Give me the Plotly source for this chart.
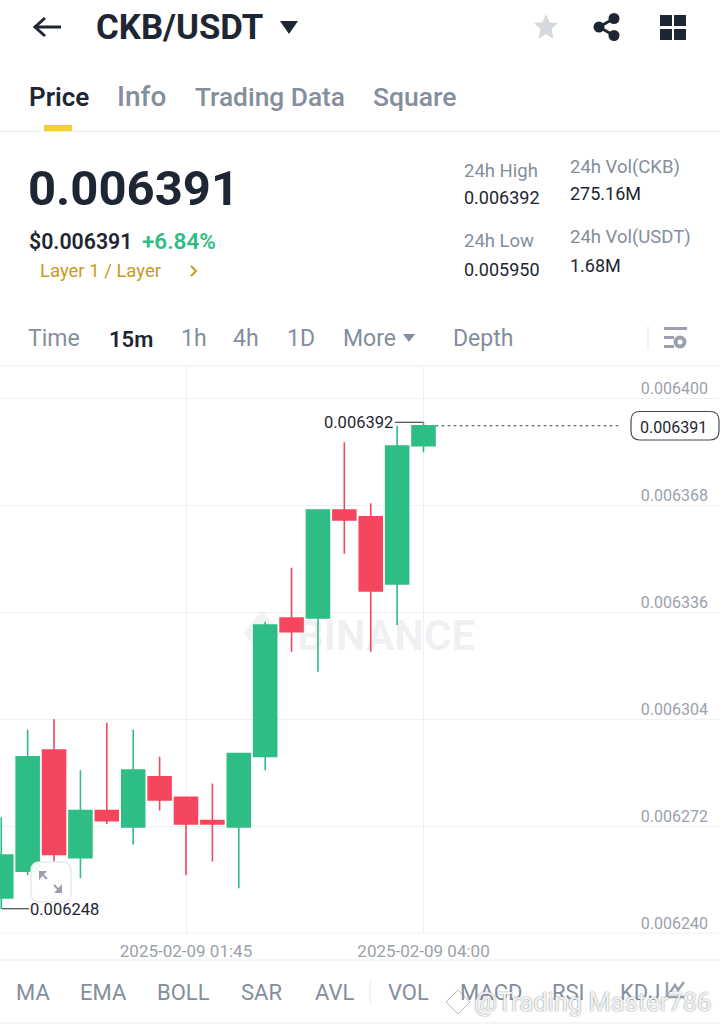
import plotly.graph_objects as go

W, H = 720, 1025
times = ["2025-02-09 00:00","2025-02-09 00:15","2025-02-09 00:30","2025-02-09 00:45","2025-02-09 01:00","2025-02-09 01:15",
         "2025-02-09 01:30","2025-02-09 01:45","2025-02-09 02:00","2025-02-09 02:15","2025-02-09 02:30","2025-02-09 02:45",
         "2025-02-09 03:00","2025-02-09 03:15","2025-02-09 03:30","2025-02-09 03:45","2025-02-09 04:00"]
opens  = [0.0062505,0.0062585,0.0062947,0.0062625,0.0062766,0.0062717,0.0062867,0.0062806,0.0062736,0.0062717,0.0062928,0.0063342,0.0063342,0.0063665,0.0063645,0.0063444,0.0063857]
highs  = [0.0062746,0.0063008,0.0063039,0.0062887,0.0063029,0.0063008,0.0062927,0.0062806,0.0062847,0.0062937,0.0063331,0.0063492,0.0063665,0.0063868,0.0063685,0.0063917,0.0063927]
lows   = [0.0062472,0.0062573,0.0062614,0.0062564,0.0062726,0.0062665,0.0062766,0.0062573,0.0062614,0.0062534,0.0062887,0.0063241,0.0063181,0.0063534,0.0063241,0.0063321,0.0063838]
closes = [0.0062633,0.0062927,0.0062635,0.0062766,0.0062736,0.0062887,0.0062798,0.0062726,0.0062726,0.0062937,0.0063321,0.0063301,0.0063665,0.0063635,0.0063423,0.0063856,0.0063917]
price_ticks = [0.00624,0.006272,0.006304,0.006336,0.006368,0.0064]
price_labels = ["0.006240","0.006272","0.006304","0.006336","0.006368","0.006400"]
time_ticks = ["2025-02-09 01:45","2025-02-09 04:00"]
time_labels = ["2025-02-09 01:45","2025-02-09 04:00"]
last_label = "0.006391"
max_label = "0.006392"
min_label = "0.006248"

DARK, GRAY, AXIS, GRID = "#1e2633", "#848e9c", "#9aa1ac", "#eef0f2"
GREEN, RED = "#2ebd85", "#f6465d"

def px(x): return x / W
def py(y): return 1 - y / H

anns, shapes = [], []

def T(x, y, text, size, color=DARK, anchor="left", weight=None, **font):
    f = dict(family="Roboto", size=size, color=color, **font)
    if weight: f["weight"] = weight
    anns.append(dict(x=px(x), y=py(y), xref="paper", yref="paper", text=text, showarrow=False,
                     xanchor=anchor, yanchor="middle", font=f, borderpad=0, borderwidth=0))

def R(x0, y0, x1, y1, fill, layer="above"):
    shapes.append(dict(type="rect", xref="paper", yref="paper", x0=px(x0), x1=px(x1), y0=py(y0), y1=py(y1),
                       fillcolor=fill, line=dict(width=0), layer=layer))

def L(x0, y0, x1, y1, color, width=1.5, dash="solid", layer="above"):
    shapes.append(dict(type="line", xref="paper", yref="paper", x0=px(x0), x1=px(x1), y0=py(y0), y1=py(y1),
                       line=dict(color=color, width=width, dash=dash), layer=layer))

def P(pts, fill, close=True, line=None, width=0, layer="above"):
    d = "M" + " L".join(f"{px(a):.5f},{py(b):.5f}" for a, b in pts) + (" Z" if close else "")
    shapes.append(dict(type="path", xref="paper", yref="paper", path=d, fillcolor=fill,
                       line=dict(color=line or "rgba(0,0,0,0)", width=width), layer=layer))

def RR(x0, y0, x1, y1, r, fill, line, width):
    def c(a, b): return f"{px(a):.5f},{py(b):.5f}"
    d = (f"M{c(x0+r,y0)} L{c(x1-r,y0)} Q{c(x1,y0)} {c(x1,y0+r)} L{c(x1,y1-r)} Q{c(x1,y1)} {c(x1-r,y1)} "
         f"L{c(x0+r,y1)} Q{c(x0,y1)} {c(x0,y1-r)} L{c(x0,y0+r)} Q{c(x0,y0)} {c(x0+r,y0)} Z")
    shapes.append(dict(type="path", xref="paper", yref="paper", path=d, fillcolor=fill,
                       line=dict(color=line, width=width), layer="above"))

def C(cx, cy, r, fill):
    shapes.append(dict(type="circle", xref="paper", yref="paper", x0=px(cx-r), x1=px(cx+r), y0=py(cy-r), y1=py(cy+r),
                       fillcolor=fill, line=dict(width=0)))

# header
L(35, 27, 61, 27, DARK, 3)
P([(45, 18), (35, 27), (45, 36)], "rgba(0,0,0,0)", close=False, line=DARK, width=3)
T(96, 27, "CKB/USDT", 34.8, weight=700)
P([(280, 21), (298, 21), (289, 34)], DARK)
star = [(546,14),(549.5,22.5),(558,23),(551.5,29),(553.5,39),(546,34),(538.5,39),(540.5,29),(534,23),(542.5,22.5)]
P(star, "#d5d9de")
C(599, 27, 5.5, DARK); C(614, 18.5, 5.5, DARK); C(614, 35.5, 5.5, DARK)
L(599, 27, 614, 18.5, DARK, 2.8); L(599, 27, 614, 35.5, DARK, 2.8)
for gx, gy in [(660, 15), (674, 15), (660, 29), (674, 29)]:
    R(gx, gy, gx + 12, gy + 11, DARK)

# tabs
T(29, 97, "Price", 26, weight=600)
T(117, 97, "Info", 28, GRAY, weight=500)
T(195, 97, "Trading Data", 26.3, GRAY, weight=500)
T(373, 97, "Square", 26.5, GRAY, weight=500)
R(44, 125, 72, 131, "#f5cf33")
L(0, 131.5, 720, 131.5, "#eceef0", 1.2)

# price block
T(28, 189, "0.006391", 49, weight=700)
T(29, 241, "$0.006391", 21.3, weight=600)
T(142, 241, "+6.84%", 22.5, GREEN, weight=600)
T(40, 271, "Layer 1 / Layer", 18.5, "#c99a1c")
P([(191, 266), (196, 271), (191, 276)], "rgba(0,0,0,0)", close=False, line="#c99a1c", width=2)
T(464, 171, "24h High", 18.5, GRAY)
T(464, 198, "0.006392", 18)
T(464, 241, "24h Low", 18.5, GRAY)
T(464, 269, "0.005950", 18)
T(570, 167, "24h Vol(CKB)", 18.5, GRAY)
T(570, 194, "275.16M", 18)
T(570, 237, "24h Vol(USDT)", 18.5, GRAY)
T(570, 265, "1.68M", 18)

# interval row
T(28, 338, "Time", 23, GRAY)
T(109, 339, "15m", 22, weight=600)
T(181, 338, "1h", 23, GRAY)
T(233, 338, "4h", 23, GRAY)
T(287, 338, "1D", 23, GRAY)
T(343, 338, "More", 23, GRAY)
P([(403, 334), (415, 334), (409, 342)], GRAY)
T(453, 338, "Depth", 23, GRAY)
L(648, 326, 648, 350, "#e4e7ea", 1.2)
R(664, 327, 687, 330, AXIS); R(664, 336, 674, 339, AXIS); R(664, 345, 674, 348, AXIS)
C(680, 342, 6.5, AXIS); C(680, 342, 2.5, "#ffffff")
L(0, 366, 720, 366, "#eceef0", 1.2)
L(0, 933, 720, 933, GRID, 1.2, layer="below")

# watermark behind candles
P([(262, 611), (281, 633), (262, 655), (243, 633)], "#f1f2f4", layer="below")
T(297, 635, "BINANCE", 42, "rgba(132,142,156,0.13)", weight=700)

# last price line and extreme labels (on the chart's own axes)
shapes.append(dict(type="line", xref="x", yref="y", x0=times[-1], x1="2025-02-09 05:51", y0=closes[-1], y1=closes[-1],
                   line=dict(color="#444b55", width=1.2, dash="3px,3px"), layer="below"))
RR(631, 411.5, 719, 440, 9, "#ffffff", "#444b55", 1.2)
T(640, 428, last_label, 16, DARK)
T(393, 423, max_label, 16.5, DARK, anchor="right")
L(395, 422.3, 423.5, 422.3, "#444b55", 1.2)
T(30, 909, min_label, 16.5, DARK)
L(2, 908.7, 29, 908.7, "#444b55", 1.2)

# expand button
RR(31, 862, 71, 902, 9, "rgba(255,255,255,0.92)", "#e8eaed", 1.5)
P([(39, 871), (47, 871), (39, 880)], AXIS); P([(62, 893), (54, 893), (62, 884)], AXIS)
L(42, 874, 47, 879, AXIS, 2); L(54, 885, 59, 890, AXIS, 2)

# bottom row
L(0, 960, 720, 960, "#eceef0", 1.2)
L(0, 1023, 720, 1023, "#eceef0", 1.2)
for x, s in [(16, "MA"), (80, "EMA"), (157, "BOLL"), (241, "SAR"), (315, "AVL"), (388, "VOL"),
             (460, "MACD"), (552, "RSI"), (620, "KDJ")]:
    T(x, 992, s, 22, GRAY)
L(370, 981, 370, 1003, "#e4e7ea", 1.2)
P([(667, 982), (667, 997), (684, 997)], "rgba(0,0,0,0)", close=False, line=AXIS, width=2.5)
P([(669, 994), (675, 985), (678, 990), (684, 982)], "rgba(0,0,0,0)", close=False, line=AXIS, width=2.5)
P([(458, 990), (470, 1002), (458, 1014), (446, 1002)], "rgba(255,255,255,0.5)", line="#b8bcc2", width=1)
T(474, 1002, "@Trading Master786", 25.5, "rgba(255,255,255,0.92)", shadow="0px 0px 1.5px #555b63")

fig = go.Figure(go.Candlestick(
    x=times, open=opens, high=highs, low=lows, close=closes, whiskerwidth=0,
    increasing=dict(line=dict(color=GREEN, width=1.6), fillcolor=GREEN),
    decreasing=dict(line=dict(color=RED, width=1.6), fillcolor=RED),
    hoverinfo="skip", showlegend=False))

fig.update_layout(
    width=W, height=H, autosize=False, margin=dict(l=0, r=0, t=0, b=0),
    paper_bgcolor="#ffffff", plot_bgcolor="#ffffff", showlegend=False, boxgap=0.13, boxgroupgap=0,
    font=dict(family="Roboto"), annotations=anns, shapes=shapes,
    xaxis=dict(type="date", domain=[0, 1], range=["2025-02-08 23:59:17", "2025-02-09 06:48:31"],
               rangeslider=dict(visible=False), tickmode="array", tickvals=time_ticks, ticktext=time_labels,
               showgrid=True, gridcolor=GRID, gridwidth=1.2, zeroline=False, showline=False, ticks="",
               tickfont=dict(family="Roboto", size=17, color=AXIS), ticklabelstandoff=5),
    yaxis=dict(domain=[py(934), py(366)], range=[0.00623970, 0.00640957], side="right",
               tickmode="array", tickvals=price_ticks, ticktext=price_labels, ticklabelposition="inside",
               ticklabelstandoff=9, ticklabelshift=-10, showgrid=True, gridcolor=GRID, gridwidth=1.2,
               zeroline=False, showline=False, ticks="", tickfont=dict(family="Roboto", size=16, color=AXIS)),
)
fig.write_html("out.html", post_script="document.body.style.margin='0';document.documentElement.style.overflow='hidden';",
               config=dict(displayModeBar=False))
